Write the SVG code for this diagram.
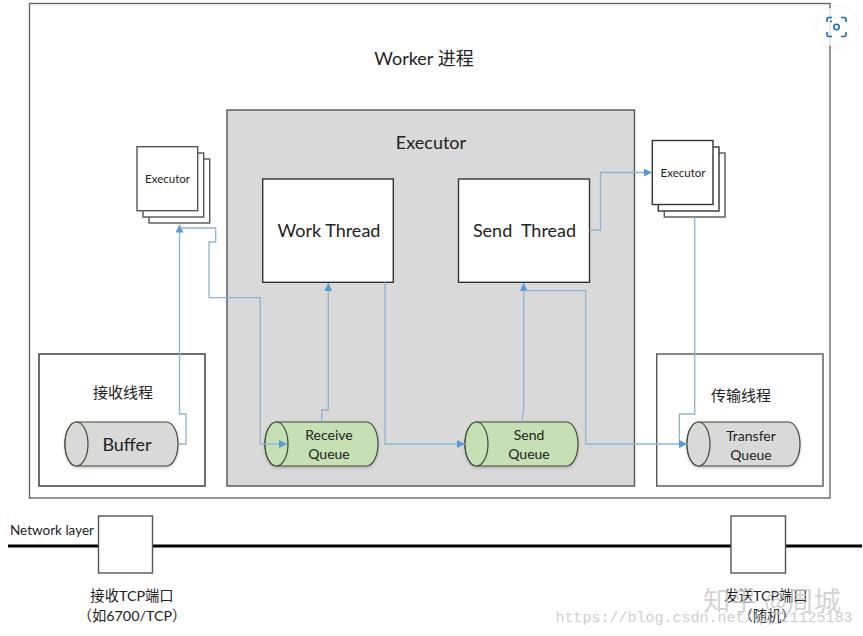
<svg xmlns="http://www.w3.org/2000/svg" width="863" height="636" viewBox="0 0 863 636">
<style>
text{font-family:Lato,"Liberation Sans","Noto Sans CJK SC",sans-serif;fill:#222;text-anchor:middle}
.box{fill:#fff;stroke:#555;stroke-width:1.4}
.dark{fill:#fff;stroke:#333;stroke-width:1.4}
.cyl{stroke:#3f4a3a;stroke-width:1.2;filter:url(#sh)}
.end{stroke:#3f4a3a;stroke-width:1.2}
.g{fill:#d9d9d9}.v{fill:#c5e0b4}
.c{fill:none;stroke:#8fb4cf;stroke-width:1.3}
.t18{font-size:18px}.t15{font-size:15px}.t14{font-size:14px}.t11{font-size:11.500px}
.p{font-size:14.300px}
</style>
<defs>
<marker id="a" markerUnits="userSpaceOnUse" markerWidth="9" markerHeight="8" refX="8" refY="4" orient="auto"><path d="M0 0L8 4L0 8Z" fill="#5b9bd5"/></marker>
<filter id="sh" x="-10%" y="-10%" width="120%" height="130%"><feDropShadow dx="0" dy="1.500" stdDeviation="1.500" flood-color="#000" flood-opacity=".2"/></filter>
<filter id="halo" x="-30%" y="-30%" width="160%" height="160%"><feDropShadow dx="0" dy="0" stdDeviation="2" flood-color="#000" flood-opacity=".1"/></filter>
</defs>
<rect width="863" height="636" fill="#fff"/>
<g id="worker"><rect x="29.500" y="3.500" width="800.500" height="494.500" fill="#fff" stroke="#666" stroke-width="1.400"/><text class="t18" x="424" y="64.500">Worker 进程</text></g>
<g id="executor-main"><rect x="227" y="110" width="407.500" height="376" fill="#d9d9d9" stroke="#555" stroke-width="1.400"/><text class="t18" x="431" y="149">Executor</text></g>
<g id="receive-thread"><rect class="dark" x="39" y="354" width="166" height="132"/><text class="t15" x="123" y="398">接收线程</text></g>
<g id="transfer-thread"><rect class="box" x="656.700" y="354" width="166.300" height="132"/><text class="t15" x="741" y="401">传输线程</text></g>
<g id="executor-left"><rect class="box" x="149" y="159" width="60.700" height="64"/><rect class="box" x="143" y="153" width="60.700" height="64"/><rect class="box" x="137" y="146.700" width="60.700" height="64"/><text class="t11" x="167.500" y="183">Executor</text></g>
<g id="executor-right"><rect class="box" x="664.300" y="153" width="60.700" height="64"/><rect class="dark" x="658.300" y="147" width="60.700" height="64"/><rect class="dark" x="652.300" y="140.500" width="60.700" height="64"/><text class="t11" x="683" y="177">Executor</text></g>
<g id="work-thread"><rect class="dark" x="262.700" y="179" width="130.600" height="103.300"/><text class="t18" x="329" y="237">Work Thread</text></g>
<g id="send-thread"><rect class="dark" x="458.500" y="179" width="131" height="103.300"/><text class="t18" x="524.500" y="237" xml:space="preserve">Send  Thread</text></g>
<g id="buffer"><path class="cyl g" d="M76.500 422H166.500A11.500 22 0 0 1 166.500 466H76.500A11.500 22 0 0 1 76.500 422Z"/><ellipse class="end g" cx="76.500" cy="444" rx="11.500" ry="22"/><text class="t18" x="127" y="451">Buffer</text></g>
<g id="receive-queue"><path class="cyl v" d="M276.500 422H366.500A11.500 22 0 0 1 366.500 466H276.500A11.500 22 0 0 1 276.500 422Z"/><ellipse class="end v" cx="276.500" cy="444" rx="11.500" ry="22"/><text class="t14" x="329" y="440">Receive</text><text class="t14" x="329" y="459">Queue</text></g>
<g id="send-queue"><path class="cyl v" d="M476.500 422H566.500A11.500 22 0 0 1 566.500 466H476.500A11.500 22 0 0 1 476.500 422Z"/><ellipse class="end v" cx="476.500" cy="444" rx="11.500" ry="22"/><text class="t14" x="529" y="440">Send</text><text class="t14" x="529" y="459">Queue</text></g>
<g id="transfer-queue"><path class="cyl g" d="M698.500 422H788.500A11.500 22 0 0 1 788.500 466H698.500A11.500 22 0 0 1 698.500 422Z"/><ellipse class="end g" cx="698.500" cy="444" rx="11.500" ry="22"/><text class="t14" x="751" y="441">Transfer</text><text class="t14" x="751" y="460">Queue</text></g>
<g id="connectors">
<path class="c" marker-end="url(#a)" d="M178.500 444H186V414H179.500V224.500"/>
<path class="c" d="M179.500 228H215.700V242H209V297.700H260.300V444"/>
<path class="c" marker-end="url(#a)" d="M260.300 444H287"/>
<path class="c" marker-end="url(#a)" d="M321.700 422V410H328.300V283"/>
<path class="c" marker-end="url(#a)" d="M385 282.300V444H465"/>
<path class="c" marker-end="url(#a)" d="M521.700 422L523.700 410V283"/>
<path class="c" d="M524 290.700H585.700V444"/>
<path class="c" marker-end="url(#a)" d="M585.700 444H687"/>
<path class="c" marker-end="url(#a)" d="M589.500 230H600.500V172.500H652"/>
<path class="c" marker-end="url(#a)" d="M694.700 217V414H679.400V444L687 444"/>
</g>
<g id="network">
<line x1="8" y1="546" x2="862" y2="546" stroke="#000" stroke-width="3"/>
<text x="52" y="535" font-size="13.500">Network layer</text>
</g>
<g id="receive-port"><rect class="box" x="98.500" y="516" width="54" height="57"/><text class="p" x="132" y="601">接收TCP端口</text><text class="p" x="132" y="621">（如6700/TCP）</text></g>
<g id="send-port"><rect class="box" x="731" y="516" width="54.500" height="57"/><text class="p" x="766" y="601">发送TCP端口</text><text class="p" x="767" y="621">（随机）</text></g>
<g id="watermark">
<text x="772" y="611" font-size="27" style="fill:#c8c8c8" fill-opacity=".8">知乎 @周城</text>
<text x="704" y="622" font-size="15" style="font-family:'Liberation Mono',monospace;fill:#c4c4c4" fill-opacity=".85">https://blog.csdn.net/qq_21125183</text>
</g>
<g id="lens">
<circle cx="837" cy="27" r="20" fill="#fff" fill-opacity=".8" filter="url(#halo)"/>
<circle cx="836.500" cy="27" r="2.700" fill="none" stroke="#1a66c9" stroke-width="1.600"/>
<circle cx="831" cy="21.500" r="1" fill="#1a66c9"/>
<path d="M827 22V19.500Q827 17.500 829 17.500H832M841 17.500H844Q846 17.500 846 19.500V22M846 32V34.500Q846 36.500 844 36.500H841M832 36.500H829Q827 36.500 827 34.500V32" fill="none" stroke="#1a66c9" stroke-width="1.600"/>
</g>
</svg>
